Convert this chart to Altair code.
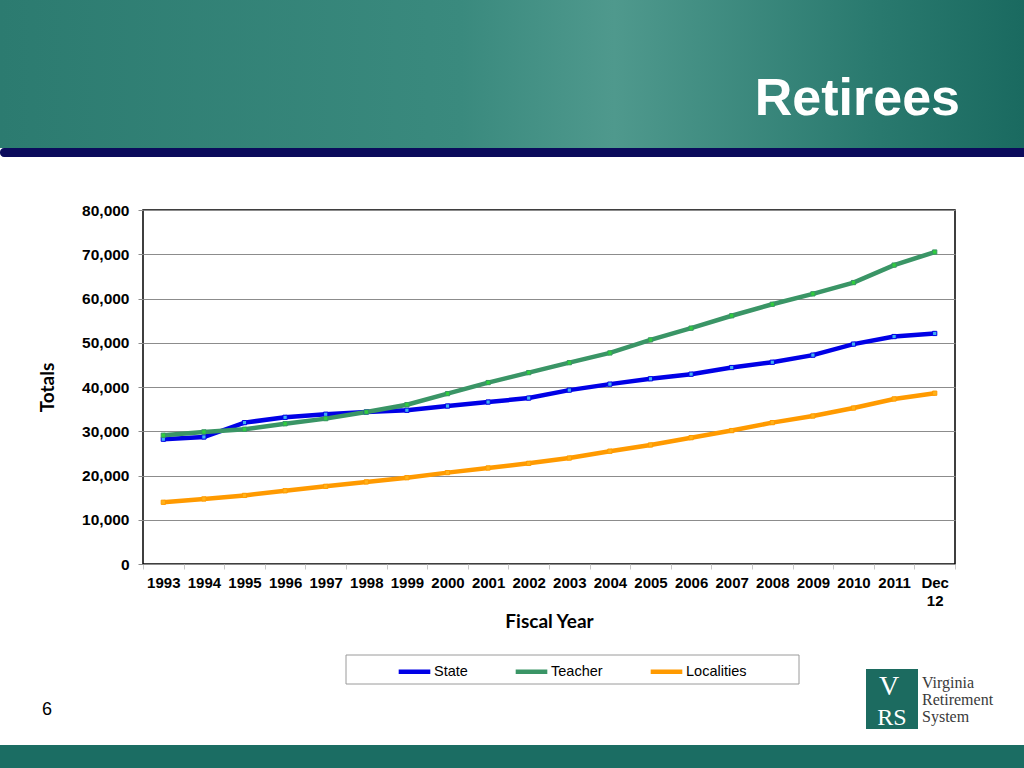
import altair as alt
import pandas as pd

# Fiscal years on the x axis
years = ["1993", "1994", "1995", "1996", "1997", "1998", "1999", "2000", "2001",
         "2002", "2003", "2004", "2005", "2006", "2007", "2008", "2009", "2010",
         "2011", "Dec 12"]

# Retiree counts per plan
state = [28200, 28700, 31950, 33150, 33850, 34350, 34750, 35700, 36600, 37500,
         39300, 40650, 41850, 42900, 44400, 45600, 47200, 49700, 51400, 52100]
teacher = [29100, 29850, 30450, 31700, 32850, 34350, 36000, 38500, 41000, 43250,
           45500, 47700, 50650, 53300, 56100, 58700, 61050, 63600, 67550, 70500]
localities = [13950, 14700, 15500, 16550, 17550, 18550, 19500, 20650, 21700, 22750,
              23950, 25500, 26900, 28550, 30150, 31950, 33450, 35250, 37300, 38600]

series_names = ["State", "Teacher", "Localities"]
line_colors = ["#0000e6", "#3a9566", "#ff9a00"]
marker_colors = ["#3fb0f0", "#2fd03a", "#ffb21a"]

rows = []
for name, vals in zip(series_names, [state, teacher, localities]):
    for yr, v in zip(years, vals):
        rows.append({"year": yr, "series": name, "value": v})
df = pd.DataFrame(rows)

W, H = 812, 354
PAD_L, PAD_T = 143, 210
PAD_R, PAD_B = 1024 - PAD_L - W, 768 - PAD_T - H

blank = alt.Data(values=[{}])

x_enc = alt.X(
    "year:N", sort=years, bandPosition=0.5,
    scale=alt.Scale(type="band", paddingInner=0, paddingOuter=0),
    axis=alt.Axis(
        title="Fiscal Year", titleFont="Lato", titleFontSize=19, titleFontWeight="bold",
        titleColor="black", titlePadding=4,
        labelFont="Liberation Sans", labelFontSize=15, labelFontWeight="bold",
        labelColor="black", labelAngle=0, labelPadding=6, labelLineHeight=18,
        labelExpr="split(datum.label, ' ')",
        domain=False, grid=False, tickBand="extent", tickColor="#c8c8c8", tickSize=5,
    ),
)
y_enc = alt.Y(
    "value:Q",
    scale=alt.Scale(domain=[0, 80000], nice=False, zero=True),
    axis=alt.Axis(
        title="Totals", titleFont="Lato", titleFontSize=19, titleFontWeight="bold",
        titleColor="black", titlePadding=24,
        values=list(range(0, 80001, 10000)), format=",.0f",
        labelFont="Liberation Sans", labelFontSize=15.5, labelFontWeight="bold",
        labelColor="black", labelPadding=9,
        domain=False, grid=True, gridColor="#8c8c8c", gridWidth=1,
        tickColor="#8c8c8c", tickSize=5,
    ),
)

lines = alt.Chart(df).mark_line(strokeWidth=4.5).encode(
    x=x_enc,
    y=y_enc,
    color=alt.Color(
        "series:N", sort=series_names,
        scale=alt.Scale(domain=series_names, range=line_colors),
        legend=alt.Legend(
            title=None, orient="none", legendX=253, legendY=443, direction="horizontal",
            symbolType="stroke", symbolStrokeWidth=4.5, symbolSize=1000,
            labelFont="Liberation Sans", labelFontSize=14.5, labelColor="black",
            labelOffset=1, columnPadding=38, padding=0,
        ),
    ),
    detail="series:N",
)

markers = alt.Chart(df).mark_square(size=18, filled=True, strokeWidth=1, opacity=1).encode(
    x=alt.X("year:N", sort=years, bandPosition=0.5),
    y="value:Q",
    fill=alt.Fill("series:N", scale=alt.Scale(domain=series_names, range=marker_colors), legend=None),
    stroke=alt.Stroke("series:N", scale=alt.Scale(domain=series_names, range=line_colors), legend=None),
)

# slide decoration: header banner, navy rule, footer bar
header = alt.Chart(blank).mark_rect(
    color=alt.LinearGradient(
        gradient="linear", x1=0, x2=1, y1=0, y2=0,
        stops=[alt.GradientStop(offset=0, color="#2c7b70"),
               alt.GradientStop(offset=0.45, color="#3a8a7e"),
               alt.GradientStop(offset=0.6, color="#4f998d"),
               alt.GradientStop(offset=0.85, color="#2a7a6f"),
               alt.GradientStop(offset=1, color="#1a6a60")],
    )
).encode(x=alt.value(-PAD_L), x2=alt.value(W + PAD_R), y=alt.value(-PAD_T), y2=alt.value(-62))

navy = alt.Chart(blank).mark_rect(color="#0b0b5c", cornerRadiusTopLeft=4, cornerRadiusBottomLeft=4).encode(
    x=alt.value(-PAD_L), x2=alt.value(W + PAD_R), y=alt.value(-62), y2=alt.value(-53)
)

footer = alt.Chart(blank).mark_rect(color="#1b6d63").encode(
    x=alt.value(-PAD_L), x2=alt.value(W + PAD_R), y=alt.value(745 - PAD_T), y2=alt.value(768 - PAD_T)
)

title = alt.Chart(blank).mark_text(
    text="Retirees", font="Liberation Sans", fontSize=52, fontWeight="bold",
    color="white", align="right", baseline="alphabetic"
).encode(x=alt.value(960 - PAD_L), y=alt.value(115 - PAD_T))

legend_box = alt.Chart(blank).mark_rect(fill="white", stroke="#9a9a9a", strokeWidth=1).encode(
    x=alt.value(346 - PAD_L), x2=alt.value(799 - PAD_L), y=alt.value(655 - PAD_T), y2=alt.value(684 - PAD_T)
)

page_num = alt.Chart(blank).mark_text(
    text="6", font="Liberation Sans", fontSize=18, color="black", align="center", baseline="middle"
).encode(x=alt.value(47 - PAD_L), y=alt.value(710 - PAD_T))

logo_box = alt.Chart(blank).mark_rect(color="#1c6b60").encode(
    x=alt.value(866 - PAD_L), x2=alt.value(918 - PAD_L), y=alt.value(669 - PAD_T), y2=alt.value(729 - PAD_T)
)
logo_v = alt.Chart(blank).mark_text(
    text="V", font="Liberation Serif", fontSize=28, color="white", align="center", baseline="alphabetic"
).encode(x=alt.value(889 - PAD_L), y=alt.value(695 - PAD_T))
logo_rs = alt.Chart(blank).mark_text(
    text="RS", font="Liberation Serif", fontSize=24, color="white", align="center", baseline="alphabetic"
).encode(x=alt.value(892 - PAD_L), y=alt.value(725 - PAD_T))

logo_lines = []
for i, word in enumerate(["Virginia", "Retirement", "System"]):
    logo_lines.append(
        alt.Chart(blank).mark_text(
            text=word, font="Liberation Serif", fontSize=16, color="#3a3a3a",
            align="left", baseline="alphabetic"
        ).encode(x=alt.value(922 - PAD_L), y=alt.value(688 + 17 * i - PAD_T))
    )

chart = alt.layer(
    header, navy, footer, title, legend_box, page_num, logo_box, logo_v, logo_rs,
    *logo_lines, lines, markers
).resolve_scale(
    fill="independent", stroke="independent"
).properties(
    width=W, height=H,
    padding={"left": PAD_L, "top": PAD_T, "right": PAD_R, "bottom": PAD_B},
    autosize=alt.AutoSizeParams(type="none"),
    background="white",
).configure_view(
    stroke="black", strokeWidth=1.5
)

chart.save("out.html", embed_options={"renderer": "svg", "actions": False})
